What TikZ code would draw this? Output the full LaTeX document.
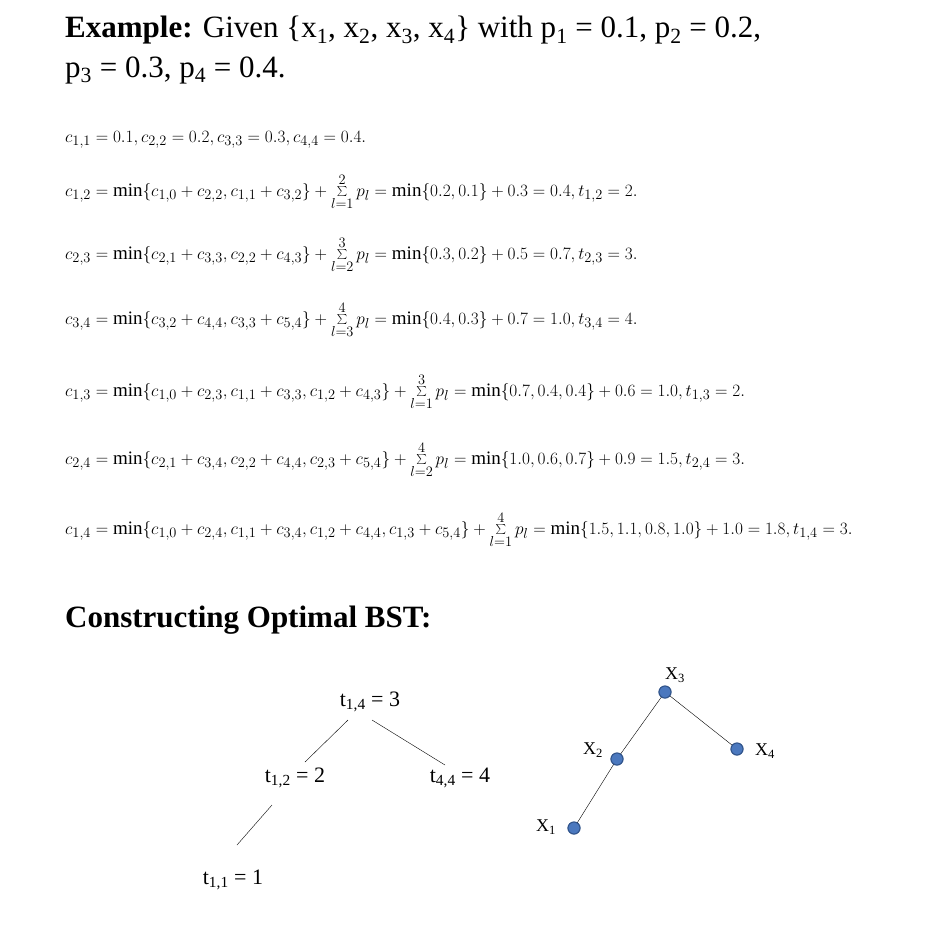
\documentclass[tikz,border=0pt]{standalone}
\usepackage{fontspec}
\setmainfont{Liberation Serif}
\begin{document}
\begin{tikzpicture}[x=1pt,y=-1pt,
  eq/.style={anchor=west,inner sep=0pt,font=\fontsize{19}{22}\selectfont},
  tn/.style={inner sep=1pt,font=\fontsize{22}{26}\selectfont},
  dot/.style={circle,fill={rgb,255:red,75;green,120;blue,190},draw={rgb,255:red,50;green,85;blue,140},line width=1pt,minimum size=12pt,inner sep=0pt},
  xl/.style={inner sep=0pt,font=\fontsize{18}{20}\selectfont}]
\useasboundingbox (0,0) rectangle (940,930);
\node[anchor=west,inner sep=0pt,font=\fontsize{31}{36}\selectfont] (t1) at (65,30) {\textbf{Example:} Given \{x\textsubscript{1}, x\textsubscript{2}, x\textsubscript{3}, x\textsubscript{4}\} with p\textsubscript{1} = 0.1, p\textsubscript{2} = 0.2,};
\node[anchor=west,inner sep=0pt,font=\fontsize{31}{36}\selectfont] (t2) at (65,70) {p\textsubscript{3} = 0.3, p\textsubscript{4} = 0.4.};
\node[eq] (e0) at (65,140) {$c_{1,1}=0.1, c_{2,2}=0.2, c_{3,3}=0.3, c_{4,4}=0.4.$};
\node[eq] (e1) at (65,192) {$c_{1,2}=\min\{c_{1,0}+c_{2,2},c_{1,1}+c_{3,2}\}+\sum\limits_{l=1}^{2}p_l=\min\{0.2,0.1\}+0.3=0.4, t_{1,2}=2.$};
\node[eq] (e2) at (65,255) {$c_{2,3}=\min\{c_{2,1}+c_{3,3},c_{2,2}+c_{4,3}\}+\sum\limits_{l=2}^{3}p_l=\min\{0.3,0.2\}+0.5=0.7, t_{2,3}=3.$};
\node[eq] (e3) at (65,320) {$c_{3,4}=\min\{c_{3,2}+c_{4,4},c_{3,3}+c_{5,4}\}+\sum\limits_{l=3}^{4}p_l=\min\{0.4,0.3\}+0.7=1.0, t_{3,4}=4.$};
\node[eq] (e4) at (65,392) {$c_{1,3}=\min\{c_{1,0}+c_{2,3},c_{1,1}+c_{3,3},c_{1,2}+c_{4,3}\}+\sum\limits_{l=1}^{3}p_l=\min\{0.7,0.4,0.4\}+0.6=1.0, t_{1,3}=2.$};
\node[eq] (e5) at (65,460) {$c_{2,4}=\min\{c_{2,1}+c_{3,4},c_{2,2}+c_{4,4},c_{2,3}+c_{5,4}\}+\sum\limits_{l=2}^{4}p_l=\min\{1.0,0.6,0.7\}+0.9=1.5, t_{2,4}=3.$};
\node[eq] (e6) at (65,530) {$c_{1,4}=\min\{c_{1,0}+c_{2,4},c_{1,1}+c_{3,4},c_{1,2}+c_{4,4},c_{1,3}+c_{5,4}\}+\sum\limits_{l=1}^{4}p_l=\min\{1.5,1.1,0.8,1.0\}+1.0=1.8, t_{1,4}=3.$};
\node[anchor=west,inner sep=0pt,font=\fontsize{31}{36}\selectfont\bfseries] (h) at (65,620) {Constructing Optimal BST:};
% left tree
\node[tn] (a) at (370,702) {t\textsubscript{1,4} = 3};
\node[tn] (b) at (295,778) {t\textsubscript{1,2} = 2};
\node[tn] (c) at (460,778) {t\textsubscript{4,4} = 4};
\node[tn] (d) at (233,880) {t\textsubscript{1,1} = 1};
\coordinate (a1) at (348,720); \coordinate (b1) at (305,762);
\coordinate (a2) at (372,720); \coordinate (c1) at (445,765);
\coordinate (b2) at (272,805); \coordinate (d1) at (237,845);
\draw (a1) -- (b1) (a2) -- (c1) (b2) -- (d1);
% right tree
\node[dot] (x3) at (665,692) {};
\node[dot] (x2) at (617,759) {};
\node[dot] (x4) at (737,749) {};
\node[dot] (x1) at (574,828) {};
\draw (x3.center) -- (x2.center) -- (x1.center) (x3.center) -- (x4.center);
\node[dot] at (x3) {}; \node[dot] at (x2) {}; \node[dot] at (x4) {}; \node[dot] at (x1) {};
\node[xl] (l3) at (675,675) {X\textsubscript{3}};
\node[xl] (l2) at (593,750) {X\textsubscript{2}};
\node[xl] (l4) at (765,751) {X\textsubscript{4}};
\node[xl] (l1) at (546,827) {X\textsubscript{1}};
\end{tikzpicture}
\end{document}
